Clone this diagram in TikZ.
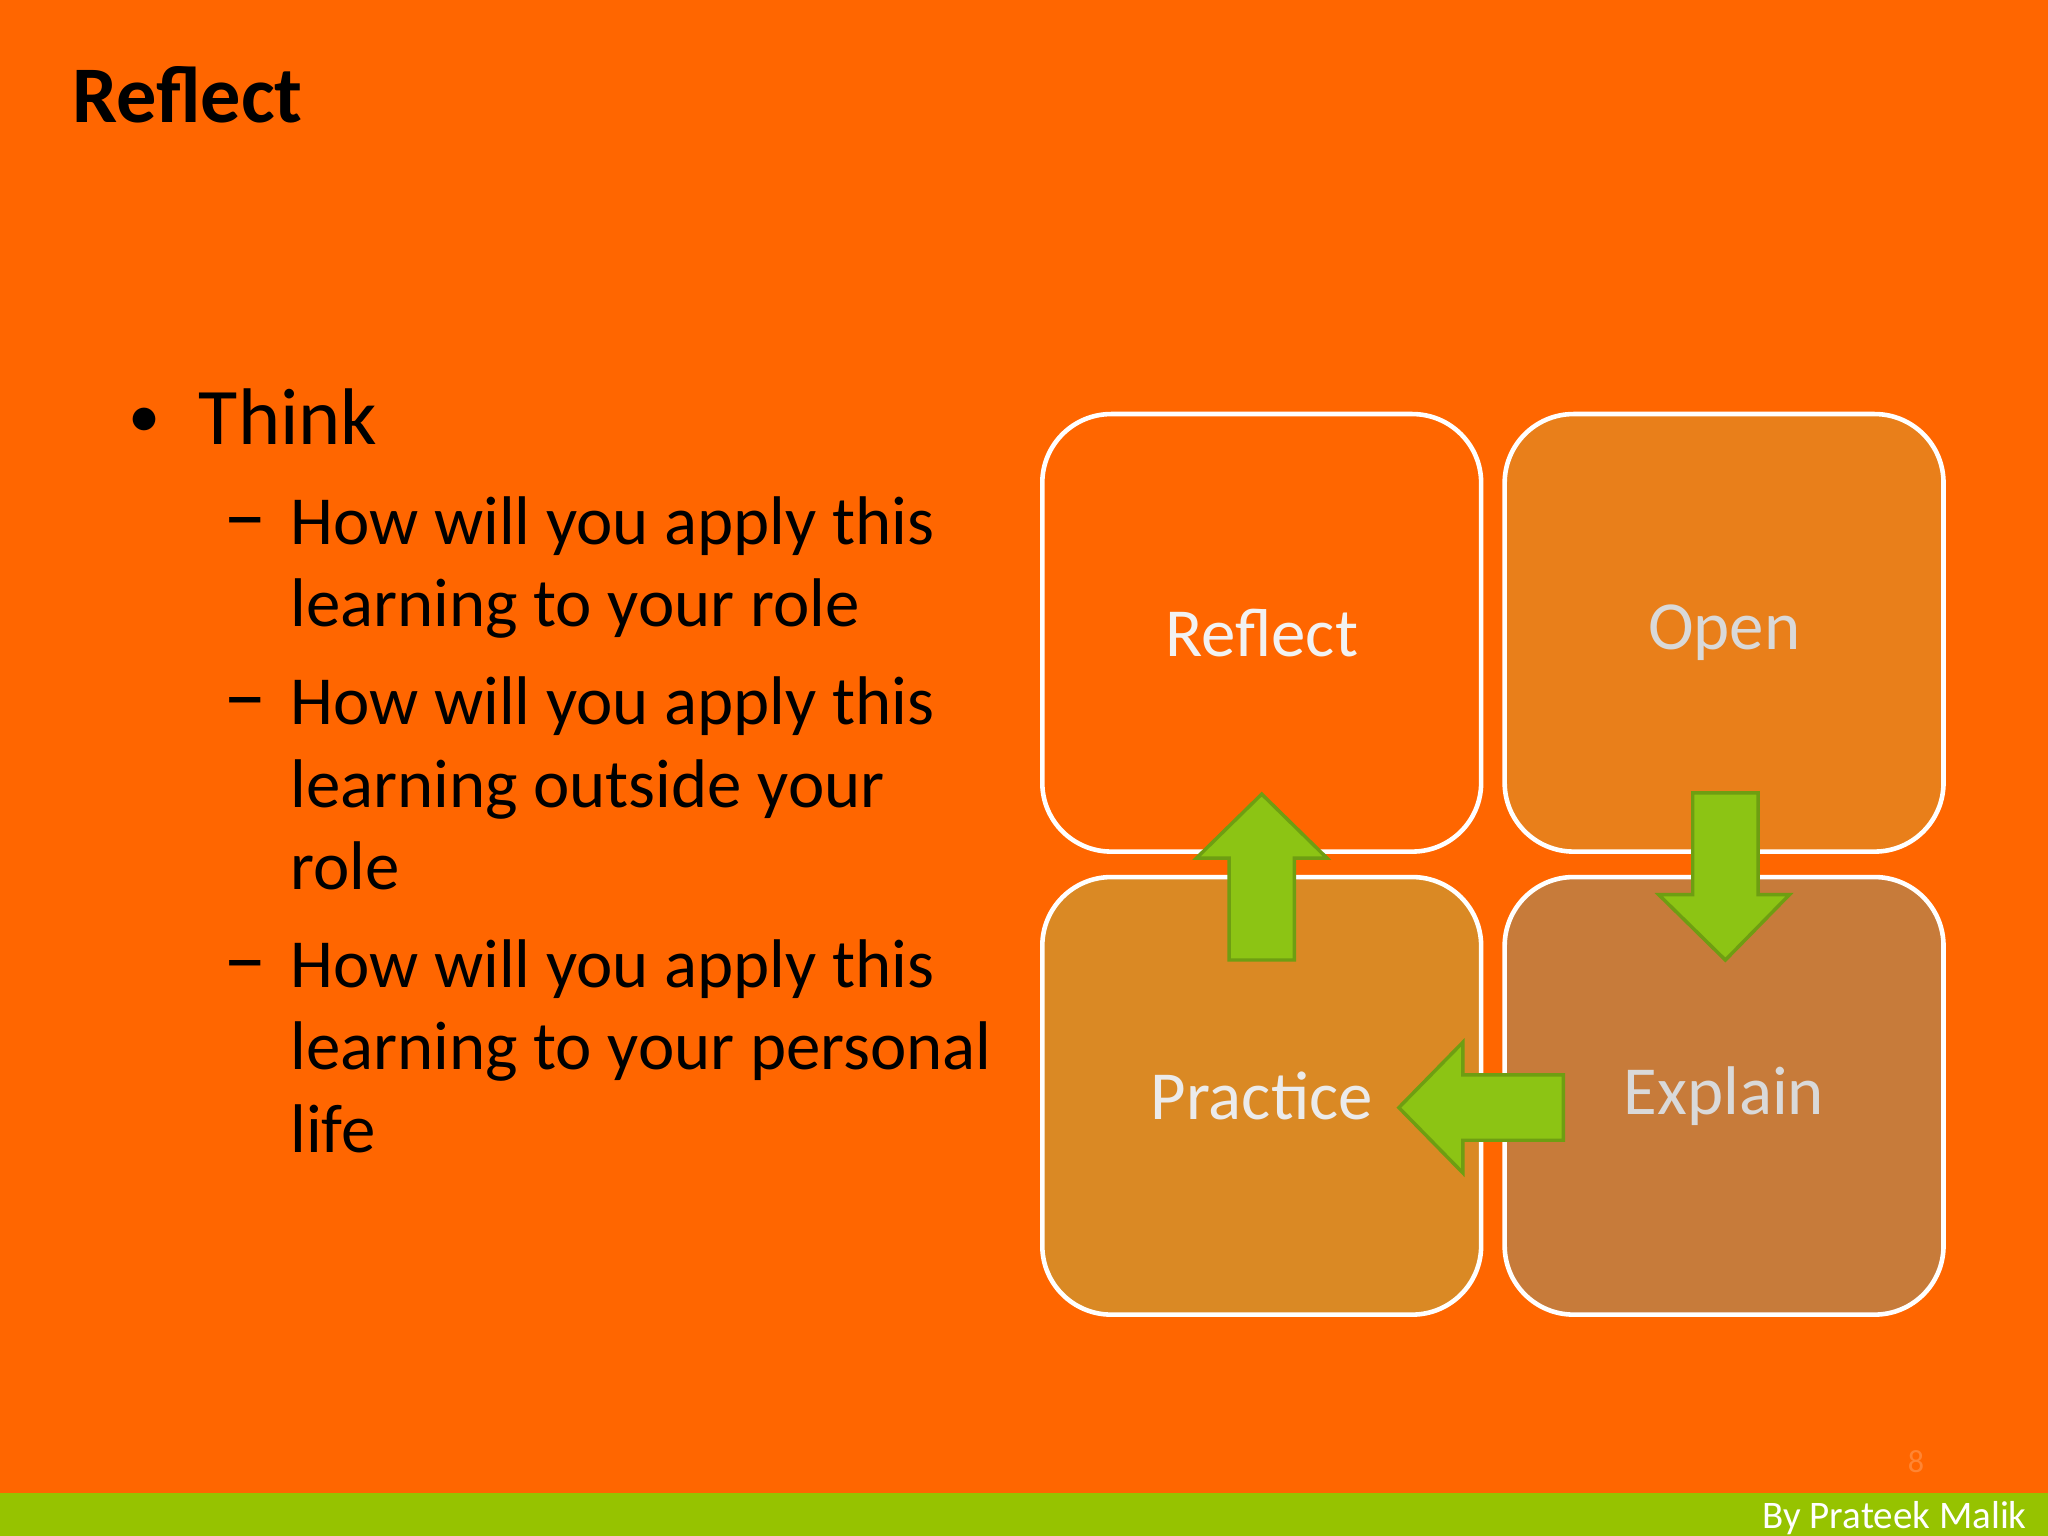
\documentclass[tikz,border=0pt]{standalone}
\usepackage{fontspec}
\setmainfont{Carlito}
\definecolor{bg}{HTML}{FF6600}
\definecolor{bar}{HTML}{96C300}
\definecolor{agreen}{HTML}{8CC414}
\definecolor{aedge}{HTML}{6E9E12}
\definecolor{cO}{HTML}{E97F1A}
\definecolor{cP}{HTML}{DA8924}
\definecolor{cE}{HTML}{C77B3A}
\begin{document}
\begin{tikzpicture}[x=0.02cm,y=-0.02cm,
  box/.style={draw=white,line width=2pt,rounded corners=30pt,minimum width=336*0.02cm,minimum height=335*0.02cm,font=\fontsize{30}{36}\selectfont},
  txt/.style={anchor=base west,font=\fontsize{30}{36}\selectfont,inner sep=0},
  dsh/.style={anchor=base west,font=\fontsize{38}{36}\selectfont,inner sep=0},
  arr/.style={fill=agreen,draw=aedge,line width=1.5pt,line join=miter}]
\fill[bg] (0,0) rectangle (1568,1176);
\useasboundingbox (0,0) rectangle (1568,1176);
\fill[bar] (0,1143) rectangle (1568,1176);
\node[anchor=base west,inner sep=0,font=\fontsize{35}{40}\selectfont\bfseries] (title) at (55,94) {Reflect};
\node[txt,font=\fontsize{28}{40}\selectfont] (b) at (98,335) {•};
\node[txt,font=\fontsize{35}{40}\selectfont] (think) at (152,340) {Think};
\node[dsh] (d1) at (171,417) {–};
\node[txt] (l1) at (222,417) {How will you apply this};
\node[txt] (l2) at (222,480) {learning to your role};
\node[dsh] (d2) at (171,555) {–};
\node[txt] (l3) at (222,555) {How will you apply this};
\node[txt] (l4) at (222,618) {learning outside your};
\node[txt] (l5) at (222,681) {role};
\node[dsh] (d3) at (171,756) {–};
\node[txt] (l6) at (222,756) {How will you apply this};
\node[txt] (l7) at (222,819) {learning to your personal};
\node[txt] (l8) at (222,882) {life};
\node[box,fill=bg,text=white!95!black] (R) at (966,484.5) {Reflect};
\node[box,fill=cO,text=black!15] (O) at (1320,484.5) {Open};
\node[box,fill=cP,text=black!8] (P) at (966,839) {Practice};
\node[box,fill=cE,text=black!15] (E) at (1320,839) {Explain};
\draw[arr] (941,735) -- (941,657) -- (916,657) -- (966,608) -- (1016,657) -- (991,657) -- (991,735) -- cycle;
\draw[arr] (1296,607) -- (1346,607) -- (1346,685) -- (1370,685) -- (1321,735) -- (1270,685) -- (1296,685) -- cycle;
\draw[arr] (1197,823) -- (1120,823) -- (1120,798) -- (1071,848) -- (1120,898) -- (1120,873) -- (1197,873) -- cycle;
\node[anchor=base,inner sep=0,text=bg!80!white,font=\fontsize{14}{16}\selectfont] (pg) at (1467,1127) {8};
\node[anchor=base east,inner sep=0,text=white,font=\fontsize{17}{20}\selectfont] (by) at (1552,1170) {By Prateek Malik};
\end{tikzpicture}
\end{document}
